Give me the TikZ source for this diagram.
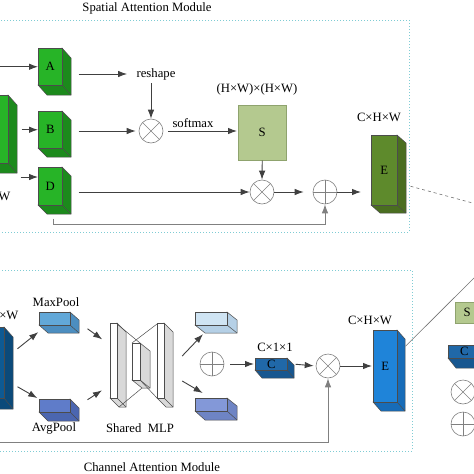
\documentclass[tikz,border=0pt]{standalone}
\usepackage{fontspec}
\setmainfont{Liberation Serif}
\usetikzlibrary{arrows.meta,positioning}

\definecolor{grnF}{HTML}{27B427}
\definecolor{grnD}{HTML}{1C8A1C}
\definecolor{olvF}{HTML}{5E8A2C}
\definecolor{olvD}{HTML}{4A6E20}
\definecolor{sgrF}{HTML}{B4C98F}
\definecolor{sgrB}{HTML}{8FA36E}
\definecolor{navF}{HTML}{0E5A93}
\definecolor{navD}{HTML}{0B4A7A}
\definecolor{skyF}{HTML}{62A8D8}
\definecolor{skyD}{HTML}{4C8EC0}
\definecolor{lavF}{HTML}{5F7CC9}
\definecolor{lavD}{HTML}{4B66B0}
\definecolor{palF}{HTML}{CFE4F3}
\definecolor{palD}{HTML}{B5D0E6}
\definecolor{perF}{HTML}{8398D8}
\definecolor{perD}{HTML}{6E84C4}
\definecolor{cblF}{HTML}{2068A8}
\definecolor{cblD}{HTML}{175790}
\definecolor{brtF}{HTML}{1F84D9}
\definecolor{brtD}{HTML}{176CB8}
\definecolor{frm}{HTML}{7FCCD4}

\begin{document}
\begin{tikzpicture}[x=1pt,y=-1pt,
	font=\fontsize{12.7}{14}\selectfont,
	arr/.style={draw=black!75, line width=0.9pt, -{Latex[length=9pt,width=6.5pt]}},
	skip/.style={arr, draw=black!50},
	edge/.style={draw=black!70, line width=0.5pt},
	frame/.style={draw=frm, dotted, line width=1pt},
	face/.style={draw=black!70, line width=0.5pt, inner sep=0pt, anchor=north west},
	op/.style={circle, draw=black!50, line width=0.6pt, minimum size=24pt, inner sep=0pt},
	otimes/.style={op, path picture={\draw[black!50, line width=0.6pt]
		(path picture bounding box.north west) -- (path picture bounding box.south east)
		(path picture bounding box.north east) -- (path picture bounding box.south west);}},
	oplus/.style={op, path picture={\draw[black!50, line width=0.6pt]
		(path picture bounding box.north) -- (path picture bounding box.south)
		(path picture bounding box.east) -- (path picture bounding box.west);}}]

	\useasboundingbox (0,0) rectangle (474,474);

	% рамки модулей
	\draw [frame] ( -5, 20 ) rectangle ( 409, 232 );
	\draw [frame] ( -5, 270 ) rectangle ( 412, 451 );
	\node (satitle) at ( 147, 8 ) {Spatial Attention Module};
	\node (catitle) at ( 152, 467 ) {Channel Attention Module};

	% вход (пространственный модуль)
	\filldraw [edge, fill=grnD] ( 8, 95 ) -- ( 17, 105 ) -- ( 17, 173 ) -- ( -21, 173 ) -- ( -30, 163 ) -- ( 8, 163 ) -- cycle;
	\draw [edge] ( 8, 163 ) -- ( 17, 173 );
	\node [face, fill=grnF, minimum width=38pt, minimum height=68pt] (xin) at ( -30, 95 ) {};
	\node [anchor=east] (xsz) at ( 14, 196 ) {C×H×W};

	% блок A
	\filldraw [edge, fill=grnD] ( 62, 48 ) -- ( 71, 58 ) -- ( 71, 95 ) -- ( 47, 95 ) -- ( 38, 85 ) -- ( 62, 85 ) -- cycle;
	\draw [edge] ( 62, 85 ) -- ( 71, 95 );
	\node [face, fill=grnF, minimum width=24pt, minimum height=37pt] (A) at ( 38, 48 ) {A};

	% блок B
	\filldraw [edge, fill=grnD] ( 62, 111 ) -- ( 71, 120 ) -- ( 71, 157 ) -- ( 47, 157 ) -- ( 38, 148 ) -- ( 62, 148 ) -- cycle;
	\draw [edge] ( 62, 148 ) -- ( 71, 157 );
	\node [face, fill=grnF, minimum width=24pt, minimum height=37pt] (B) at ( 38, 111 ) {B};

	% блок D
	\filldraw [edge, fill=grnD] ( 62, 167 ) -- ( 71, 176 ) -- ( 71, 214 ) -- ( 47, 214 ) -- ( 38, 205 ) -- ( 62, 205 ) -- cycle;
	\draw [edge] ( 62, 205 ) -- ( 71, 214 );
	\node [face, fill=grnF, minimum width=24pt, minimum height=38pt] (D) at ( 38, 167 ) {D};

	% матрица S и операции
	\node (reshape) at ( 156, 74 ) {reshape};
	\node [otimes] (mul1) at ( 151, 131 ) {};
	\node (softmax) at ( 193, 123 ) {softmax};
	\node [face, fill=sgrF, draw=sgrB, minimum width=48pt, minimum height=55pt] (S) at ( 238, 105 ) {S};
	\node (ssz) at ( 257, 89 ) {(H×W)×(H×W)};
	\node [otimes] (mul2) at ( 262, 192 ) {};
	\node [oplus] (add1) at ( 325, 192 ) {};

	% выход E (пространственный)
	\filldraw [edge, fill=olvD] ( 397, 135 ) -- ( 406, 143 ) -- ( 406, 213 ) -- ( 380, 213 ) -- ( 371, 205 ) -- ( 397, 205 ) -- cycle;
	\draw [edge] ( 397, 205 ) -- ( 406, 213 );
	\node [face, fill=olvF, minimum width=26pt, minimum height=70pt] (E1) at ( 371, 135 ) {E};
	\node (e1sz) at ( 379, 117 ) {C×H×W};
	\coordinate (zoom1) at ( 480, 205 );

	% стрелки (пространственный модуль)
	\draw [arr] (xin.east |- A.west) ++( -20, 0 ) -- (A.west);
	\draw [arr] (xin.east |- B.west) ++( 13, 0 ) -- (B.west);
	\draw [arr] (xin.east |- D.143) ++( 12, 0 ) -- (D.143);
	\draw [arr, shorten >=6pt] (A.east |- reshape.west) ++( 16, 0 ) -- (reshape.west);
	\draw [arr] (mul1.north |- reshape.south) -- (mul1.north);
	\draw [arr, shorten >=3pt] (B.east |- mul1.west) ++( 16, 0 ) -- (mul1.west);
	\draw [arr, shorten >=1pt] (mul1.east) ++( 5, 0 ) -- (S.west |- mul1.east);
	\draw [arr] (S.south) -- (mul2.north);
	\draw [arr] (D.east |- mul2.west) ++( 16, 0 ) -- (mul2.west);
	\draw [arr, shorten >=9pt] (mul2.east) -- (add1.west);
	\draw [arr, shorten >=10pt] (add1.east) -- (E1.west |- add1.east);
	\draw [skip] (D.south) ++( 3, 13 ) -- ++( 0, 6 ) -| (add1.south);
	\draw [dashed, black!55, line width=0.6pt] ([xshift=13pt,yshift=-16pt]E1.east) -- (zoom1);

	% вход (канальный модуль)
	\filldraw [edge, fill=navD] ( 4, 327 ) -- ( 13, 337 ) -- ( 13, 409 ) -- ( -31, 409 ) -- ( -40, 398 ) -- ( 4, 398 ) -- cycle;
	\draw [edge] ( 4, 398 ) -- ( 13, 409 );
	\node [face, fill=navF, minimum width=44pt, minimum height=71pt] (fin) at ( -40, 327 ) {};
	\node [anchor=east] (fsz) at ( 22, 315 ) {C×H×W};

	% MaxPool
	\filldraw [edge, fill=skyD] ( 70, 312 ) -- ( 79, 320 ) -- ( 79, 333 ) -- ( 48, 333 ) -- ( 39, 325 ) -- ( 70, 325 ) -- cycle;
	\draw [edge] ( 70, 325 ) -- ( 79, 333 );
	\node [face, fill=skyF, minimum width=31pt, minimum height=13pt] (mp) at ( 39, 312 ) {};
	\node (mplbl) at ( 56, 302 ) {MaxPool};

	% AvgPool
	\filldraw [edge, fill=lavD] ( 70, 399 ) -- ( 79, 408 ) -- ( 79, 421 ) -- ( 48, 421 ) -- ( 39, 412 ) -- ( 70, 412 ) -- cycle;
	\draw [edge] ( 70, 412 ) -- ( 79, 421 );
	\node [face, fill=lavF, minimum width=31pt, minimum height=13pt] (ap) at ( 39, 399 ) {};
	\node (aplbl) at ( 54, 428 ) {AvgPool};

	% Shared MLP
	\filldraw [edge, fill=black!15] ( 117, 323 ) -- ( 126, 332 ) -- ( 126, 407 ) -- ( 119, 407 ) -- ( 110, 398 ) -- ( 117, 398 ) -- cycle;
	\draw [edge] ( 117, 398 ) -- ( 126, 407 );
	\filldraw [edge, fill=white] ( 110, 323 ) rectangle ( 117, 398 );
	\filldraw [edge, fill=black!15] ( 140, 343 ) -- ( 150, 351 ) -- ( 150, 388 ) -- ( 142, 388 ) -- ( 132, 380 ) -- ( 140, 380 ) -- cycle;
	\draw [edge] ( 140, 380 ) -- ( 150, 388 );
	\filldraw [edge, fill=white] ( 132, 343 ) rectangle ( 140, 380 );
	\filldraw [edge, fill=black!15] ( 164, 323 ) -- ( 173, 332 ) -- ( 173, 407 ) -- ( 166, 407 ) -- ( 157, 398 ) -- ( 164, 398 ) -- cycle;
	\draw [edge] ( 164, 398 ) -- ( 173, 407 );
	\filldraw [edge, fill=white] ( 157, 323 ) rectangle ( 164, 398 );
	\draw [edge] ( 117, 324 ) -- ( 140, 343 );
	\draw [edge] ( 157, 324 ) -- ( 132, 343 );
	\draw [edge] ( 119, 407 ) -- ( 142, 388 );
	\draw [edge] ( 157, 398 ) -- ( 140, 380 );
	\node [minimum width=66pt, minimum height=85pt, inner sep=0pt] (mlp) at ( 141, 365 ) {};
	\node (mlplbl) at ( 140, 428 ) {Shared\ \ MLP};

	% выходы MLP
	\filldraw [edge, fill=palD] ( 227, 312 ) -- ( 237, 320 ) -- ( 237, 333 ) -- ( 205, 333 ) -- ( 195, 325 ) -- ( 227, 325 ) -- cycle;
	\draw [edge] ( 227, 325 ) -- ( 237, 333 );
	\node [face, fill=palF, minimum width=32pt, minimum height=13pt] (ob1) at ( 195, 312 ) {};
	\filldraw [edge, fill=perD] ( 227, 398 ) -- ( 237, 406 ) -- ( 237, 420 ) -- ( 205, 420 ) -- ( 195, 411 ) -- ( 227, 411 ) -- cycle;
	\draw [edge] ( 227, 411 ) -- ( 237, 420 );
	\node [face, fill=perF, minimum width=32pt, minimum height=13pt] (ob2) at ( 195, 398 ) {};
	\node [oplus] (add2) at ( 212, 364 ) {};

	% вектор C
	\filldraw [edge, fill=cblD] ( 287, 358 ) -- ( 294, 365 ) -- ( 294, 378 ) -- ( 262, 378 ) -- ( 255, 370 ) -- ( 287, 370 ) -- cycle;
	\draw [edge] ( 287, 370 ) -- ( 294, 378 );
	\node [face, fill=cblF, minimum width=32pt, minimum height=12pt] (cblk) at ( 255, 358 ) {C};
	\node (csz) at ( 275, 347 ) {C×1×1};
	\node [otimes] (mul3) at ( 328, 366 ) {};

	% выход E (канальный)
	\filldraw [edge, fill=brtD] ( 397, 330 ) -- ( 405, 339 ) -- ( 405, 411 ) -- ( 381, 411 ) -- ( 373, 402 ) -- ( 397, 402 ) -- cycle;
	\draw [edge] ( 397, 402 ) -- ( 405, 411 );
	\node [face, fill=brtF, minimum width=24pt, minimum height=72pt] (E2) at ( 373, 330 ) {E};
	\node (e2sz) at ( 370, 320 ) {C×H×W};
	\coordinate (zoom2) at ( 480, 272 );

	% стрелки (канальный модуль)
	\draw [arr, shorten >=1pt] (fin.east) ++( 13, -14 ) -- ([yshift=-6pt]mp.south west);
	\draw [arr, shorten >=2pt] (fin.east) ++( 13, 24 ) -- (ap.north west);
	\draw [arr, shorten >=7pt] (mp.east) ++( 17, 10 ) -- (mlp.147);
	\draw [arr, shorten >=7pt] (ap.east) ++( 17, -6 ) -- (mlp.213);
	\draw [arr, shorten >=12pt] (mlp.east) ++( 8, -9 ) -- (ob1.south);
	\draw [arr, shorten >=10pt] (mlp.east) ++( 8, 16 ) -- (ob2.north);
	\draw [arr, shorten >=1pt] (add2.east) ++( 6, 0 ) -- (cblk.west |- add2.east);
	\draw [arr, shorten >=2pt] (cblk.east) ++( 8, 0 ) -- (mul3.west);
	\draw [arr, shorten >=1pt] (mul3.east) -- (E2.west |- mul3.east);
	\draw [skip] (fin.south) ++( 0, 11 ) -- ++( 0, 33 ) -| (mul3.south);
	\draw [black!55, line width=0.6pt] ([xshift=8pt,yshift=20pt]E2.east) -- (zoom2);

	% легенда
	\node [face, fill=sgrF, draw=sgrB, minimum width=24pt, minimum height=21pt] (lS) at ( 455, 302 ) {S};
	\filldraw [edge, fill=cblD] ( 480, 345 ) -- ( 488, 355 ) -- ( 488, 368 ) -- ( 456, 368 ) -- ( 448, 358 ) -- ( 480, 358 ) -- cycle;
	\node [face, fill=cblF, minimum width=32pt, minimum height=13pt] (lC) at ( 448, 345 ) {C};
	\node [otimes] (lmul) at ( 463, 392 ) {};
	\node [oplus] (ladd) at ( 463, 424 ) {};
\end{tikzpicture}
\end{document}
